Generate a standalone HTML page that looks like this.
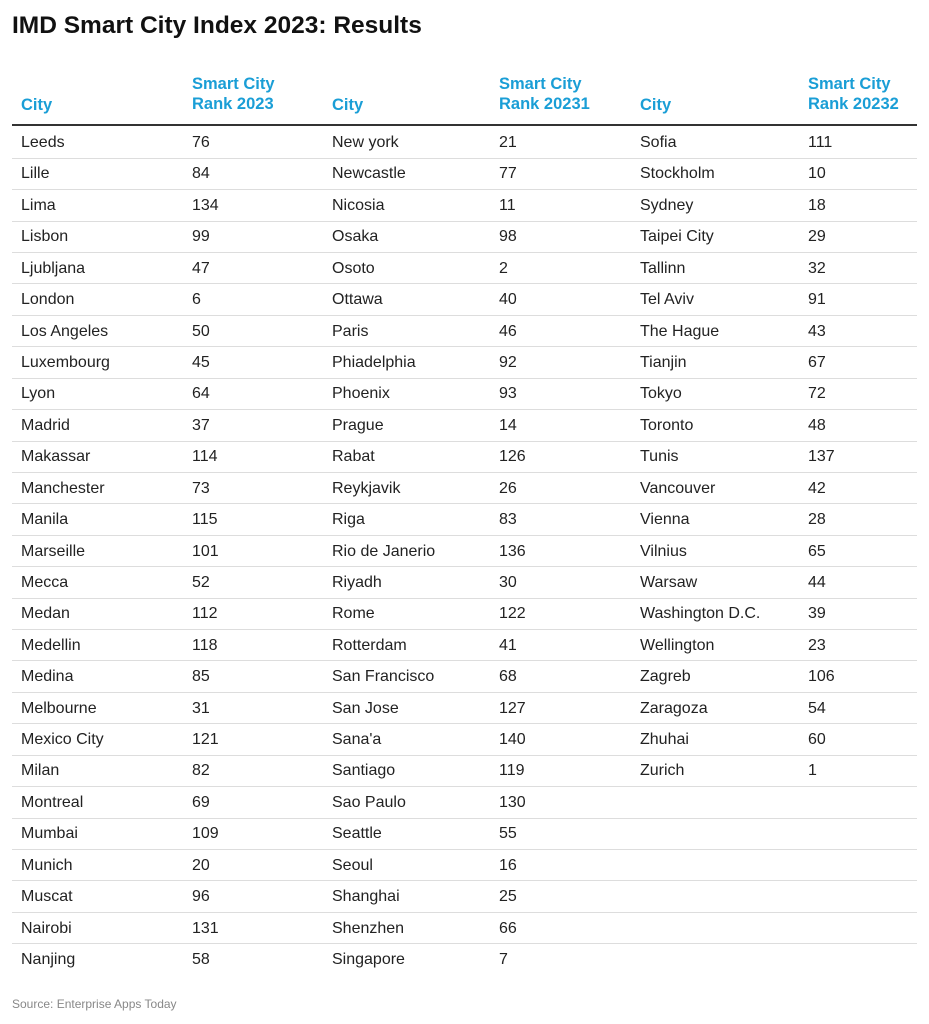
<!DOCTYPE html>
<html><head><meta charset="utf-8"><style>
body{margin:0;background:#fff;width:929px;height:1024px;position:relative;font-family:"Liberation Sans",sans-serif;overflow:hidden}
.t{position:absolute;left:12px;top:12px;font-size:24.5px;font-weight:bold;color:#111}
.h{position:absolute;color:#1a9ed6;font-weight:bold;font-size:16.5px;line-height:20px}
.c{position:absolute;font-size:16px;color:#222;line-height:20px;white-space:nowrap}
.l{position:absolute;left:12px;width:905px;height:1px;background:#ddd}
.src{position:absolute;left:12px;top:997px;font-size:12px;color:#888}
</style></head><body>
<div class="t">IMD Smart City Index 2023: Results</div>
<div class="h" style="left:21px;top:95px">City</div>
<div class="h" style="left:192px;top:74px">Smart City<br>Rank 2023</div>
<div class="h" style="left:332px;top:95px">City</div>
<div class="h" style="left:499px;top:74px">Smart City<br>Rank 20231</div>
<div class="h" style="left:640px;top:95px">City</div>
<div class="h" style="left:808px;top:74px">Smart City<br>Rank 20232</div>
<div style="position:absolute;left:12px;top:124px;width:905px;height:2px;background:#333"></div>
<div id="rows"></div>
<div class="src">Source: Enterprise Apps Today</div>
<script>
var a=[["Leeds",76,"New york",21,"Sofia",111],["Lille",84,"Newcastle",77,"Stockholm",10],["Lima",134,"Nicosia",11,"Sydney",18],["Lisbon",99,"Osaka",98,"Taipei City",29],["Ljubljana",47,"Osoto",2,"Tallinn",32],["London",6,"Ottawa",40,"Tel Aviv",91],["Los Angeles",50,"Paris",46,"The Hague",43],["Luxembourg",45,"Phiadelphia",92,"Tianjin",67],["Lyon",64,"Phoenix",93,"Tokyo",72],["Madrid",37,"Prague",14,"Toronto",48],["Makassar",114,"Rabat",126,"Tunis",137],["Manchester",73,"Reykjavik",26,"Vancouver",42],["Manila",115,"Riga",83,"Vienna",28],["Marseille",101,"Rio de Janerio",136,"Vilnius",65],["Mecca",52,"Riyadh",30,"Warsaw",44],["Medan",112,"Rome",122,"Washington D.C.",39],["Medellin",118,"Rotterdam",41,"Wellington",23],["Medina",85,"San Francisco",68,"Zagreb",106],["Melbourne",31,"San Jose",127,"Zaragoza",54],["Mexico City",121,"Sana'a",140,"Zhuhai",60],["Milan",82,"Santiago",119,"Zurich",1],["Montreal",69,"Sao Paulo",130,"",""],["Mumbai",109,"Seattle",55,"",""],["Munich",20,"Seoul",16,"",""],["Muscat",96,"Shanghai",25,"",""],["Nairobi",131,"Shenzhen",66,"",""],["Nanjing",58,"Singapore",7,"",""]];
var xs=[21,192,332,499,640,808],h="";
a.forEach(function(r,i){var y=142+i*31.42;
r.forEach(function(v,j){h+='<div class="c" style="left:'+xs[j]+'px;top:'+(y-9).toFixed(1)+'px">'+v+'</div>';});
if(i<26)h+='<div class="l" style="top:'+(y+15.7).toFixed(1)+'px"></div>';});
document.getElementById("rows").innerHTML=h;
</script>
</body></html>
